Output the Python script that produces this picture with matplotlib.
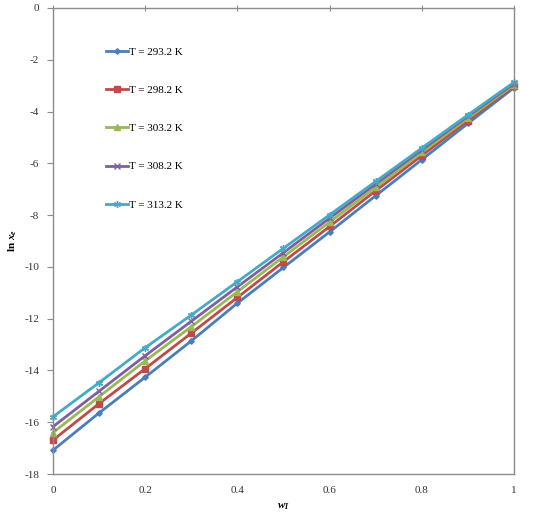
import matplotlib
matplotlib.use("Agg")
import matplotlib.pyplot as plt

w1 = [0.0, 0.1, 0.2, 0.3, 0.4, 0.5, 0.6, 0.7, 0.8, 0.9, 1.0]
labels = ["T = 293.2 K", "T = 298.2 K", "T = 303.2 K", "T = 308.2 K", "T = 313.2 K"]
T293 = [-17.08, -15.64, -14.26, -12.86, -11.40, -10.02, -8.65, -7.25, -5.86, -4.46, -3.08]
T298 = [-16.69, -15.28, -13.93, -12.56, -11.18, -9.80, -8.44, -7.06, -5.70, -4.35, -3.02]
T303 = [-16.40, -15.01, -13.63, -12.31, -10.96, -9.61, -8.27, -6.93, -5.58, -4.26, -2.97]
T308 = [-16.17, -14.80, -13.43, -12.10, -10.77, -9.45, -8.12, -6.80, -5.48, -4.18, -2.92]
T313 = [-15.79, -14.47, -13.12, -11.86, -10.57, -9.28, -7.99, -6.70, -5.41, -4.13, -2.87]
series = [T293, T298, T303, T308, T313]
xticks = [0, 0.2, 0.4, 0.6, 0.8, 1]
xticklabels = ["0", "0.2", "0.4", "0.6", "0.8", "1"]
yticks = [0, -2, -4, -6, -8, -10, -12, -14, -16, -18]

colors = ["#4A7EBB", "#BE4B48", "#98B954", "#7D60A0", "#46AAC5"]
markers = ["D", "s", "^", "x", (6, 2, 0)]
msizes = [2.8, 4.5, 4.0, 4.0, 5.0]

plt.rcParams['font.family'] = ['Liberation Serif', 'DejaVu Serif']
plt.rcParams['mathtext.fontset'] = 'custom'
plt.rcParams['mathtext.it'] = 'Liberation Serif:italic:bold'
plt.rcParams['mathtext.rm'] = 'Liberation Serif:bold'
plt.rcParams['mathtext.bf'] = 'Liberation Serif:bold'

fig = plt.figure(figsize=(5.5, 5.19), dpi=100)
ax = fig.add_axes([0.0964, 0.0867, 0.8381, 0.8979])

for ys, lab, c, m, ms in zip(series, labels, colors, markers, msizes):
    ax.plot(w1, ys, color=c, lw=2, marker=m, markersize=ms, markeredgewidth=1.0,
            markerfacecolor=c, markeredgecolor=c, label=lab, clip_on=False)

ax.set_xlim(0, 1)
ax.set_ylim(-18, 0)
ax.set_xticks(xticks)
ax.set_xticklabels(xticklabels)
ax.set_yticks(yticks)
ax.set_yticklabels([str(v) for v in yticks])

for s in ax.spines.values():
    s.set_color("#8C8C8C")
    s.set_linewidth(1.0)

# x tick marks on top (axis crosses at 0), labels at bottom
ax.tick_params(axis='x', which='both', top=True, bottom=False, direction='inout',
               length=5, color="#8C8C8C", labelsize=8, pad=6, labelcolor="#333333")
ax.tick_params(axis='y', direction='out', length=4, color="#8C8C8C", labelsize=8,
               pad=6, labelcolor="#333333")

ax.set_xlabel(r"$w_{I}$", fontsize=8, labelpad=5)
ax.set_ylabel(r"ln $x_{e}$", fontsize=8, fontweight='bold', labelpad=4)

leg = ax.legend(loc='upper left', bbox_to_anchor=(0.105, 0.925), frameon=False,
                fontsize=8, labelspacing=2.55, handlelength=2.0, handletextpad=0.1,
                borderaxespad=0)

fig.savefig("out.png", dpi=100)
